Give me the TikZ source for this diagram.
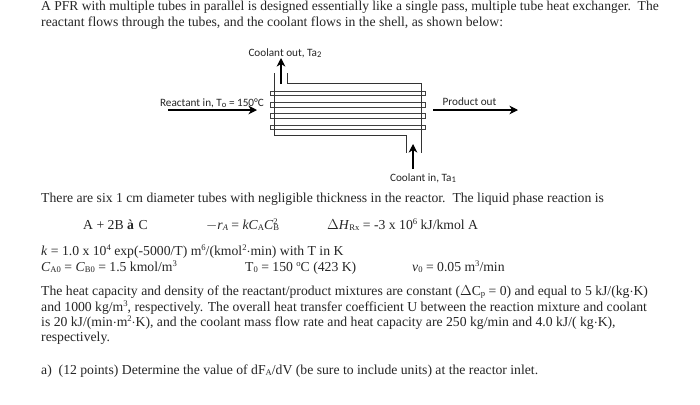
\documentclass[tikz,border=0pt]{standalone}
\usepackage{fontspec}
\setmainfont{Liberation Serif}
\newfontfamily\labelfont{Carlito}
\usetikzlibrary{arrows.meta}
\newcommand{\subsc}[1]{\smash{\raisebox{-0.25ex}{\fontsize{8.6}{9}\selectfont #1}}}
\newcommand{\supsc}[1]{\smash{\raisebox{0.75ex}{\fontsize{8.6}{9}\selectfont #1}}}
\tikzset{
  body/.style={anchor=base west,inner sep=0pt,font=\fontsize{13.7}{15}\selectfont,text=black!85},
  lab/.style={anchor=center,inner sep=0pt,font=\labelfont\fontsize{11.2}{13}\selectfont,text=black!85},
  wall/.style={line width=0.65pt,draw=black!80},
  tube/.style={line width=0.65pt,draw=black!75,fill=white},
  flow/.style={line width=0.8pt,draw=black,-{Stealth[length=6.5pt,width=6.5pt]}}
}
\begin{document}
\begin{tikzpicture}[x=0.75pt,y=-0.75pt,every node/.append style={scale=0.75}]
\useasboundingbox (0,0) rectangle (700,404);
\fill[white] (0,0) rectangle (700,404);
% body text
\node[body,font=\fontsize{13.55}{15}\selectfont] (l1) at (41,10) {A PFR with multiple tubes in parallel is designed essentially like a single pass, multiple tube heat exchanger.\ \ The};
\node[body] (l2) at (41,26) {reactant flows through the tubes, and the coolant flows in the shell, as shown below:};
\node[body] (l3) at (41,202) {There are six 1 cm diameter tubes with negligible thickness in the reactor.\ \ The liquid phase reaction is};
\node[body] (r1) at (83,229) {A + 2B \textbf{à}\,\,C};
\node[body] (r2) at (206,229) {$-$\textit{r}\subsc{\textit{A}} = \textit{kC}\subsc{A}\textit{C}\rlap{\subsc{B}}\supsc{2}};
\node[body] (r3) at (327,229) {$\Delta$\textit{H}\subsc{Rx} = -3 x 10\supsc{6} kJ/kmol A};
\node[body] (l5) at (41,255) {\textit{k} = 1.0 x 10\supsc{4} exp(-5000/T) m\supsc{6}/(kmol\supsc{2}$\cdot$min) with T in K};
\node[body] (l6a) at (41,271) {\textit{C}\subsc{A0} = \textit{C}\subsc{B0} = 1.5 kmol/m\supsc{3}};
\node[body] (l6b) at (245,271) {T\subsc{0} = 150 \supsc{o}C (423 K)};
\node[body] (l6c) at (412,271) {\textit{v}\subsc{0} = 0.05 m\supsc{3}/min};
\node[body] (l7) at (41,295) {The heat capacity and density of the reactant/product mixtures are constant ($\Delta$C\subsc{p} = 0) and equal to 5 kJ/(kg$\cdot$K)};
\node[body] (l8) at (41,311) {and 1000 kg/m\supsc{3}, respectively. The overall heat transfer coefficient U between the reaction mixture and coolant};
\node[body] (l9) at (41,326) {is 20 kJ/(min$\cdot$m\supsc{2}$\cdot$K), and the coolant mass flow rate and heat capacity are 250 kg/min and 4.0 kJ/( kg$\cdot$K),};
\node[body] (l10) at (41,341) {respectively.};
\node[body] (l11) at (41,374) {a)\ \ (12 points) Determine the value of dF\subsc{A}/dV (be sure to include units) at the reactor inlet.};
% exchanger
\foreach \y in {91,102.5,113.5,125}
  \draw[tube] (270,\y) rectangle (425,\y+4.5);
\draw[wall] (274,73) -- (274,135) -- (406,135) -- (406,153);
\draw[wall] (287,73) -- (287,83) -- (421,83) -- (421,153);
% labels
\node[lab] (cout) at (285,53) {Coolant out, Ta\subsc{2}};
\node[lab] (rin) at (212,103) {Reactant in, T\subsc{o} = 150°C};
\node[lab] (pout) at (469.5,102) {Product out};
\node[lab] (cin) at (423,178) {Coolant in, Ta\subsc{1}};
% flow arrows
\coordinate (a1) at (281,84);  \coordinate (a2) at (281,58);
\coordinate (b1) at (168,110); \coordinate (b2) at (257,110);
\coordinate (c1) at (433,110); \coordinate (c2) at (518,110);
\coordinate (d1) at (413,169); \coordinate (d2) at (413,144);
\draw[flow] (a1) -- (a2);
\draw[flow] (b1) -- (b2);
\draw[flow] (c1) -- (c2);
\draw[flow] (d1) -- (d2);
\end{tikzpicture}
\end{document}
